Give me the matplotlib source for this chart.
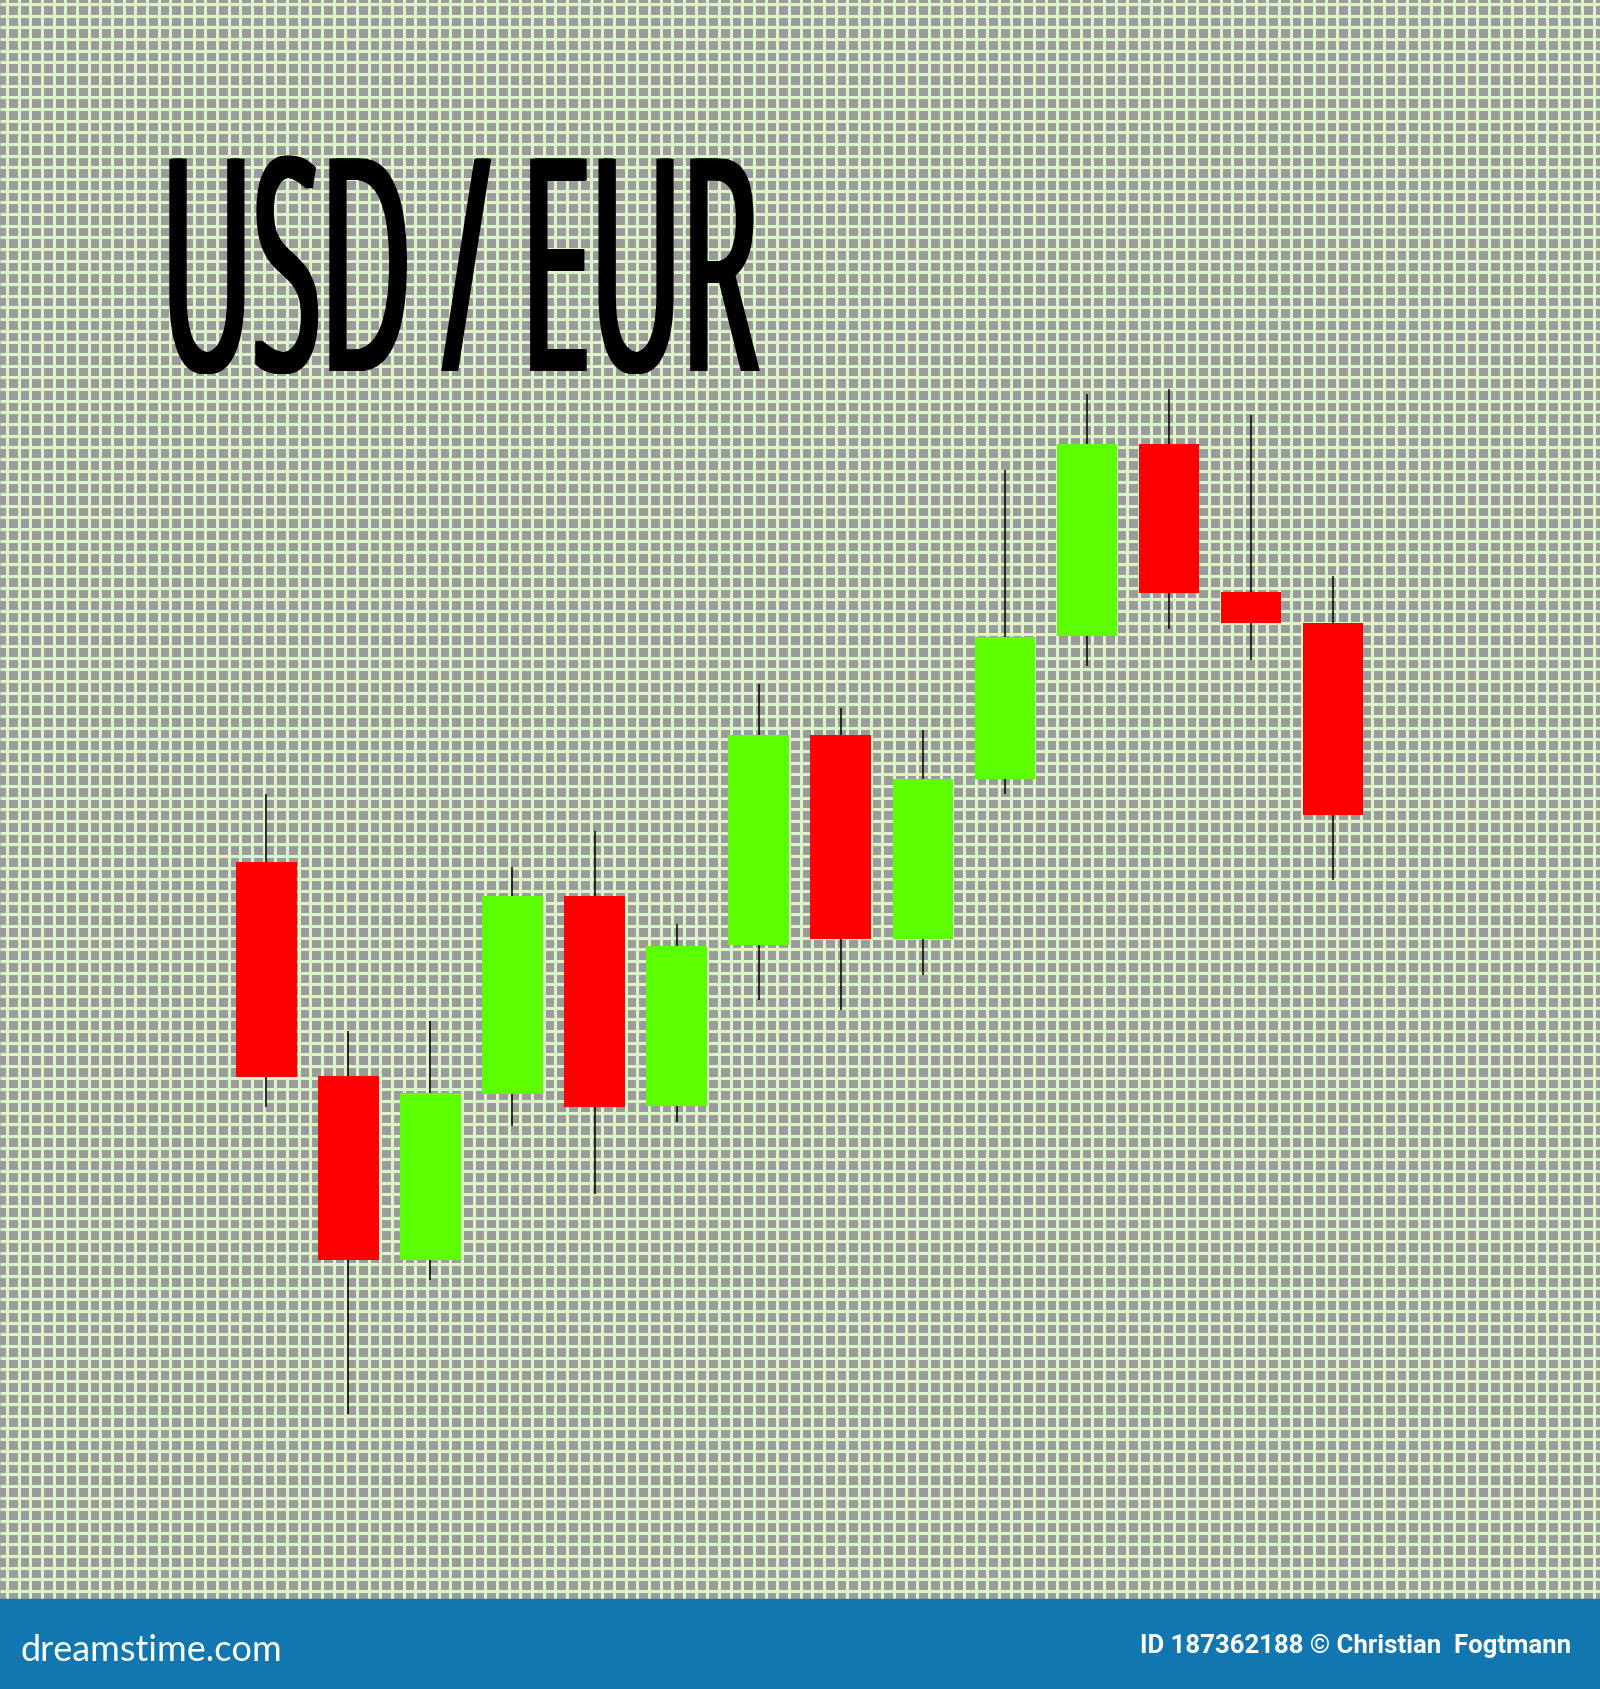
import matplotlib
matplotlib.use("Agg")
import matplotlib.pyplot as plt
from matplotlib.patches import Rectangle
from matplotlib.patheffects import AbstractPathEffect
from matplotlib.transforms import Affine2D
import numpy as np

# candle data (open, high, low, close)
opens  = [0.700, 0.501, 0.330, 0.484, 0.668, 0.473, 0.623, 0.817, 0.628, 0.777, 0.909, 1.087, 0.950, 0.921]
highs  = [0.763, 0.543, 0.552, 0.695, 0.728, 0.642, 0.865, 0.842, 0.822, 1.063, 1.134, 1.138, 1.114, 0.965]
lows   = [0.472, 0.188, 0.312, 0.455, 0.392, 0.458, 0.572, 0.562, 0.595, 0.763, 0.881, 0.916, 0.887, 0.683]
closes = [0.500, 0.330, 0.485, 0.668, 0.472, 0.622, 0.817, 0.628, 0.777, 0.908, 1.087, 0.949, 0.921, 0.743]
title = "USD / EUR"
site_text = "dreamstime.com"
credit_text = "ID 187362188 \u00a9 Christian  Fogtmann"

W, H = 1600, 1690
BANNER = 90
fig = plt.figure(figsize=(W / 100, H / 100), dpi=100, facecolor="#9b9b9b")

# background grid (pixel coordinates)
bg = fig.add_axes([0, BANNER / H, 1, (H - BANNER) / H])
bg.set_xlim(0, W)
bg.set_ylim(H - BANNER, 0)
pitch = 11.67
xs = np.arange(7, W, pitch)
ys = np.arange(5, H - BANNER, pitch)
bg.vlines(xs, 0, H - BANNER, color="#dcf5c8", lw=2.2)
bg.hlines(ys, 0, W, color="#dcf5c8", lw=2.2)
bg.axis("off")

# candles
ax = fig.add_axes([0, BANNER / H, 1, (H - BANNER) / H])
x = np.arange(len(opens))
ax.set_xlim(-3.246, 16.255)
ax.set_ylim(0.016, 1.5)
ax.vlines(x, lows, highs, color="black", lw=1.1, zorder=2)
o = np.array(opens)
c = np.array(closes)
cols = ["#5cff00" if cc > oo else "#ff0000" for oo, cc in zip(o, c)]
ax.bar(x, np.abs(c - o), bottom=np.minimum(o, c), width=0.736, color=cols, zorder=3)
ax.axis("off")


# squeezed, thickened title text
class Squeeze(AbstractPathEffect):
    def __init__(self, sx, x0, shifts):
        super().__init__()
        self.sx = sx
        self.x0 = x0
        self.shifts = shifts

    def draw_path(self, renderer, gc, tpath, affine, rgbFace=None):
        for s in self.shifts:
            aff = affine + Affine2D().translate(-self.x0, 0).scale(self.sx, 1).translate(self.x0 + s, 0)
            renderer.draw_path(gc, tpath, aff, rgbFace)


tx0 = 158
t = fig.text(tx0 / W, 1 - 372 / H, title, fontsize=214, family="Open Sans",
             color="black", ha="left", va="baseline")
fig.canvas.draw()
wfull = t.get_window_extent().width
shifts = np.arange(0, 7.1, 1.0)
sx = (604 - 7) / wfull
t.set_path_effects([Squeeze(sx, tx0, shifts)])

# bottom banner
fig.patches.append(Rectangle((0, 0), 1, BANNER / H, transform=fig.transFigure,
                             color="#1277b0", zorder=0))
fig.text(21 / W, 29 / H, site_text, fontsize=26, family="Lato", color="white",
         ha="left", va="baseline")
fig.text(1571 / W, 37 / H, credit_text, fontsize=18.5, family="Roboto",
         fontweight="bold", color="white", ha="right", va="baseline")

fig.savefig("out.png", dpi=100)
